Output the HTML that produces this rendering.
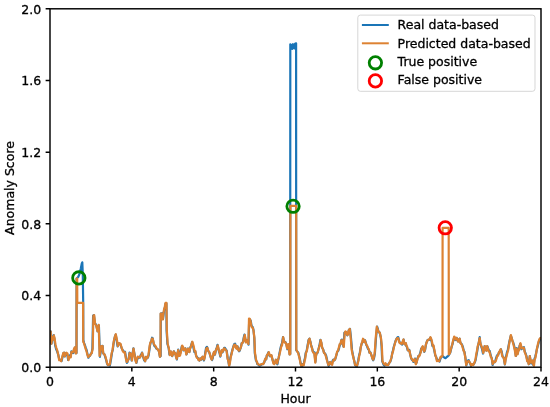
<!DOCTYPE html>
<html lang="en"><head><meta charset="utf-8"><title>Anomaly Score</title>
<style>html,body{margin:0;padding:0;background:#fff}body{width:550px;height:407px;overflow:hidden}</style></head>
<body>
<svg width="550" height="407" viewBox="0 0 550 407" style="display:block" font-family="'DejaVu Sans', 'Liberation Sans', sans-serif" font-size="12.5px" fill="#000" stroke="#000" stroke-width="0">
<rect width="550" height="407" fill="#fff"/>
<clipPath id="ax"><rect x="50.0" y="8.8" width="491.0" height="358.4"/></clipPath>
<g clip-path="url(#ax)" fill="none" stroke-width="2.2" stroke-linejoin="round" stroke-linecap="square">
<path d="M50.3,331.6 L50.9,331.7 L51.5,343.6 L52.5,336.8 L53.1,339.1 L53.7,335.1 L54.3,338.4 L55.2,345.4 L56.1,349.0 L57.1,351.2 L58.2,354.6 L59.3,359.4 L60.4,359.7 L61.5,361.1 L62.2,358.4 L62.8,355.9 L63.5,353.1 L64.2,352.6 L64.8,356.3 L65.5,354.4 L66.1,353.1 L67.2,354.2 L68.2,360.0 L69.0,356.7 L69.8,355.4 L70.6,356.6 L71.4,351.4 L72.2,352.5 L73.1,353.0 L74.1,350.2 L75.0,347.6 L75.8,353.2 L76.5,353.1 L76.5,352.5 L76.6,278.5 L78.2,277.0 L79.5,274.0 L80.8,268.5 L81.8,263.5 L82.3,262.3 L82.8,275.0 L83.2,302.8 L83.3,340.0 L84.0,342.8 L84.8,344.8 L85.7,347.6 L86.7,350.4 L87.6,354.7 L88.4,357.7 L89.2,355.8 L90.0,355.8 L90.8,353.9 L91.6,353.1 L92.4,348.7 L93.1,315.7 L93.9,315.1 L94.9,323.2 L96.2,325.0 L97.6,331.3 L98.9,325.6 L99.9,356.8 L100.7,351.8 L101.6,346.0 L102.6,345.8 L103.1,352.7 L103.8,354.1 L104.4,354.5 L105.3,357.1 L106.2,360.2 L107.0,363.4 L107.8,365.0 L108.8,365.1 L109.9,365.5 L111.0,359.3 L112.0,352.7 L112.8,349.5 L113.5,344.2 L114.2,339.6 L114.9,336.7 L115.7,334.6 L116.7,340.5 L117.6,346.3 L118.8,343.3 L119.6,343.7 L120.4,344.3 L121.8,348.5 L123.1,350.8 L124.1,351.6 L125.1,351.8 L126.2,359.4 L126.9,362.8 L127.5,362.0 L127.6,361.2 L128.6,359.1 L129.5,352.6 L130.2,353.1 L130.9,354.3 L131.7,360.5 L132.5,354.2 L133.4,348.3 L134.8,355.6 L135.6,360.1 L136.4,362.9 L137.2,359.5 L138.0,357.6 L138.7,357.4 L139.4,357.6 L140.0,357.1 L140.7,355.2 L141.3,354.3 L142.0,352.6 L142.7,355.4 L143.4,357.8 L144.2,360.3 L145.0,361.3 L146.0,356.9 L147.0,358.3 L147.9,357.7 L148.7,354.9 L150.0,345.5 L150.7,342.2 L151.4,340.9 L152.1,337.7 L152.7,338.3 L153.8,344.4 L154.6,346.2 L155.4,346.8 L156.3,348.5 L157.2,349.0 L158.1,349.6 L158.9,351.4 L160.0,356.7 L160.7,356.0 L160.8,313.6 L162.2,313.2 L163.0,319.0 L163.6,314.2 L164.2,309.7 L164.9,307.5 L165.5,303.8 L166.4,303.5 L166.6,330.4 L167.4,343.7 L168.6,347.7 L169.5,354.7 L170.8,351.6 L172.2,356.2 L173.1,353.7 L173.9,351.4 L174.7,353.7 L175.5,353.3 L176.2,357.2 L176.9,359.5 L177.5,354.9 L178.2,349.7 L179.1,355.1 L179.7,354.8 L180.4,352.6 L181.2,349.2 L181.9,346.1 L182.8,347.5 L183.6,350.4 L184.5,349.9 L185.3,348.3 L186.5,354.3 L187.3,352.1 L188.1,348.5 L188.8,350.0 L189.5,351.8 L190.1,348.2 L190.8,346.5 L191.4,344.5 L192.1,342.1 L193.2,346.4 L194.4,351.9 L195.2,351.1 L196.0,355.4 L196.9,357.1 L197.7,357.8 L198.6,359.7 L199.4,360.6 L200.4,358.5 L201.2,359.6 L201.9,358.2 L202.6,356.8 L203.2,357.7 L203.9,360.4 L204.6,357.6 L205.2,353.1 L206.1,347.8 L207.0,346.8 L208.3,351.0 L209.2,352.1 L210.1,355.0 L211.1,358.4 L212.1,360.0 L212.8,357.9 L213.6,353.6 L214.3,351.9 L215.0,354.6 L215.6,351.5 L216.2,349.2 L216.9,347.3 L217.5,344.8 L218.7,350.3 L219.5,352.8 L220.3,356.6 L221.6,350.8 L222.5,352.4 L223.3,350.7 L224.2,347.9 L225.0,347.9 L225.9,349.6 L226.7,350.7 L227.8,359.0 L228.4,361.2 L229.1,365.5 L229.7,362.9 L230.4,357.7 L231.3,354.4 L232.2,350.6 L233.2,347.1 L234.2,344.2 L235.1,343.6 L235.9,346.9 L236.8,348.3 L237.6,346.4 L238.3,349.7 L239.1,351.3 L239.7,350.7 L240.4,348.5 L241.0,346.9 L241.7,343.3 L242.3,343.0 L243.0,342.0 L243.7,337.7 L244.5,334.6 L245.8,341.7 L246.6,340.0 L247.5,340.2 L248.5,344.6 L249.2,319.3 L250.0,319.6 L250.8,321.1 L251.5,325.4 L252.2,327.0 L252.8,327.0 L253.5,330.2 L254.3,338.0 L254.8,353.0 L255.9,360.3 L256.6,361.5 L257.4,364.1 L258.4,364.6 L259.4,365.7 L260.4,365.5 L261.5,364.4 L263.5,363.4 L264.2,362.3 L264.9,360.3 L265.6,358.7 L266.2,359.4 L266.8,355.4 L267.5,354.6 L268.5,352.2 L269.7,356.2 L270.5,355.9 L271.3,355.5 L272.7,360.1 L273.5,362.8 L274.4,363.4 L275.2,362.3 L276.0,359.9 L276.7,362.5 L277.4,364.3 L278.0,360.8 L278.7,357.7 L279.4,353.7 L280.2,349.6 L280.9,346.5 L281.7,343.9 L281.7,345.4 L283.0,337.1 L283.8,340.4 L284.6,342.1 L285.5,342.2 L286.4,344.1 L287.4,349.2 L288.6,344.7 L289.7,354.4 L290.2,354.0 L290.3,44.3 L290.5,44.3 L290.9,46.5 L291.3,48.6 L291.8,45.2 L292.2,48.8 L292.6,46.0 L293.0,44.2 L293.5,47.6 L293.9,44.8 L294.3,48.4 L294.7,44.5 L295.2,43.6 L295.6,46.4 L296.0,43.3 L296.1,43.3 L296.2,350.0 L297.2,351.4 L298.3,352.7 L299.1,355.8 L299.9,359.3 L300.7,363.6 L301.5,366.5 L302.3,365.5 L303.1,363.8 L303.8,364.5 L304.4,360.4 L305.0,358.1 L305.7,353.0 L306.6,351.1 L307.5,345.9 L308.5,340.2 L309.5,338.7 L310.4,341.8 L311.2,345.7 L312.1,348.2 L313.0,351.6 L313.8,352.5 L314.5,352.3 L315.4,362.0 L316.1,355.2 L316.7,353.2 L317.6,352.7 L318.5,349.2 L319.4,345.6 L320.4,339.9 L321.2,342.3 L322.1,347.5 L323.1,349.3 L324.1,352.9 L325.1,353.4 L326.1,355.6 L327.2,360.5 L327.9,363.2 L328.6,365.8 L329.3,364.8 L330.1,362.1 L331.2,363.5 L331.9,364.0 L332.7,360.5 L333.5,359.6 L334.3,360.4 L335.2,359.3 L336.3,355.5 L337.4,351.5 L338.3,350.8 L339.2,347.6 L340.0,344.4 L340.6,344.3 L341.3,340.2 L341.9,339.6 L342.7,342.6 L343.5,346.5 L344.4,332.9 L345.1,332.2 L345.9,332.8 L347.3,335.3 L348.1,334.2 L348.8,330.2 L350.0,328.8 L351.0,338.0 L352.0,349.9 L352.9,354.8 L353.7,358.5 L354.4,361.4 L355.0,365.2 L355.8,365.6 L356.7,366.6 L357.4,364.1 L358.2,360.4 L359.1,355.4 L359.9,352.2 L360.8,347.0 L361.7,343.8 L362.5,342.0 L363.3,339.0 L364.2,342.1 L365.0,340.2 L365.7,342.3 L366.4,345.0 L367.2,346.6 L368.0,348.8 L368.7,349.4 L369.4,352.4 L370.4,352.3 L371.5,355.5 L372.4,358.5 L373.2,360.3 L374.1,357.9 L374.9,353.5 L376.0,338.0 L377.1,326.5 L377.8,328.9 L378.4,331.3 L379.1,332.4 L379.7,332.6 L380.8,337.4 L381.6,346.5 L382.2,361.0 L383.0,363.2 L383.8,365.0 L384.6,365.5 L385.5,363.8 L386.3,365.0 L388.5,364.3 L389.4,362.7 L390.2,362.0 L390.9,360.0 L391.5,357.5 L392.2,353.6 L392.8,351.4 L393.6,347.5 L394.5,344.5 L395.5,341.1 L396.5,338.8 L397.4,337.5 L398.2,337.1 L399.1,340.6 L399.9,342.8 L401.0,343.5 L402.0,344.6 L402.8,342.1 L403.6,339.6 L404.4,343.9 L405.0,344.4 L405.7,343.3 L406.3,345.9 L406.9,347.0 L407.7,350.2 L408.5,350.1 L409.3,349.9 L410.1,354.1 L411.0,357.8 L411.9,359.7 L412.7,360.5 L413.5,361.9 L414.3,360.4 L415.0,358.6 L415.9,363.6 L416.6,362.4 L417.2,359.6 L418.3,356.1 L418.9,356.3 L419.7,354.3 L420.4,352.4 L421.2,348.6 L422.6,346.9 L423.4,349.7 L424.3,351.9 L425.1,349.9 L425.9,344.8 L426.7,342.1 L427.4,340.3 L428.1,339.9 L428.8,339.8 L429.6,339.7 L430.3,337.6 L431.0,339.1 L431.7,341.7 L432.4,345.8 L433.2,345.6 L434.5,351.6 L435.3,355.4 L436.2,357.0 L437.1,360.4 L437.9,359.8 L438.7,360.6 L439.5,361.6 L440.2,359.4 L440.9,357.6 L441.3,357.0 L442.4,356.0 L443.5,356.8 L444.5,357.8 L445.5,358.2 L446.5,357.2 L447.5,356.5 L448.6,355.5 L450.2,352.7 L451.0,349.5 L451.8,346.2 L452.5,344.2 L453.2,341.0 L454.3,337.3 L454.9,338.2 L455.5,340.0 L456.6,337.8 L457.3,339.8 L457.9,341.4 L458.7,340.0 L459.6,338.7 L460.4,342.9 L461.3,343.8 L462.1,344.8 L463.0,347.4 L463.8,350.7 L464.5,352.0 L465.5,358.3 L466.3,365.5 L467.1,362.3 L467.9,360.5 L468.7,360.2 L469.5,362.3 L470.2,363.6 L471.0,366.0 L472.1,364.4 L473.2,365.0 L474.0,363.6 L474.9,362.1 L475.7,359.6 L476.5,354.9 L477.3,350.7 L478.0,346.0 L478.9,342.0 L479.7,337.2 L480.3,343.0 L481.0,345.7 L482.1,349.3 L483.0,353.6 L483.8,350.1 L484.6,346.1 L485.4,348.4 L486.3,350.5 L487.3,346.2 L488.2,348.6 L489.0,351.3 L489.7,351.0 L490.4,354.0 L491.1,356.8 L491.8,358.4 L492.7,365.0 L493.3,362.2 L494.0,362.5 L494.7,362.2 L495.4,360.6 L496.2,357.8 L497.0,355.4 L497.9,355.4 L498.7,353.1 L499.8,351.3 L500.9,349.3 L501.7,351.7 L502.5,356.0 L503.2,357.4 L503.8,358.0 L504.9,364.5 L505.4,360.1 L506.0,356.9 L506.9,352.7 L507.9,349.5 L508.6,345.6 L509.4,341.5 L510.8,335.7 L511.6,337.9 L512.3,340.3 L513.2,342.5 L514.0,345.3 L515.0,350.0 L515.9,356.0 L516.7,348.2 L517.5,353.9 L518.5,349.6 L518.8,349.8 L519.5,346.1 L520.2,344.0 L521.4,349.2 L522.2,348.2 L523.1,347.4 L523.9,347.2 L524.8,351.6 L525.6,353.5 L526.4,355.9 L527.5,361.4 L528.2,361.6 L528.9,364.2 L529.8,356.0 L530.8,363.2 L531.5,363.3 L532.2,360.9 L532.9,364.4 L533.7,365.2 L534.5,358.8 L535.3,356.6 L536.2,352.7 L537.0,348.6 L537.9,345.5 L538.7,342.4 L540.0,339.0 L540.8,337.9 L541.2,337.9" stroke="#1a75b7"/>
<path d="M50.0,331.7 L50.7,331.7 L51.3,343.7 L52.5,337.2 L53.2,339.6 L53.9,335.4 L54.6,338.3 L55.5,344.7 L56.4,348.1 L57.3,350.7 L58.3,354.9 L59.2,360.2 L60.2,360.2 L61.2,361.2 L61.9,358.2 L62.5,355.7 L63.3,353.0 L64.0,352.6 L64.8,356.3 L65.5,354.2 L66.3,352.7 L67.5,353.7 L68.5,360.2 L69.3,357.4 L70.0,356.3 L70.7,357.3 L71.4,351.8 L72.1,352.3 L72.9,352.4 L73.8,349.5 L74.7,347.3 L75.6,353.3 L76.3,353.3 L76.5,352.5 L76.6,278.5 L77.2,278.5 L77.3,302.8 L83.1,302.8 L83.2,340.0 L83.2,341.7 L84.0,343.2 L84.7,345.6 L85.5,348.5 L86.4,350.8 L87.3,354.5 L88.2,357.2 L89.1,355.4 L90.0,355.7 L90.9,353.9 L91.8,353.0 L92.7,348.5 L93.4,315.5 L94.2,315.2 L95.1,323.7 L96.3,325.7 L97.5,331.2 L98.7,324.8 L99.6,356.0 L100.5,351.5 L101.4,346.2 L102.6,346.2 L103.2,353.0 L103.9,354.2 L104.7,354.5 L105.6,357.2 L106.5,360.5 L107.2,363.7 L108.0,365.0 L108.9,364.6 L109.8,364.7 L110.7,358.8 L111.7,353.0 L112.5,350.3 L113.2,345.0 L114.0,340.2 L114.9,336.7 L115.8,334.2 L117.0,340.2 L117.9,346.2 L119.1,343.2 L119.8,343.4 L120.6,344.0 L121.8,348.5 L123.0,351.5 L123.9,352.4 L124.8,352.2 L126.0,359.0 L126.7,362.0 L127.5,361.2 L127.5,360.5 L128.7,359.0 L129.7,353.0 L130.5,353.5 L131.2,354.5 L132.0,360.5 L132.7,354.2 L133.5,348.5 L134.7,356.0 L135.4,360.3 L136.2,362.7 L136.9,358.8 L137.7,356.7 L138.4,356.8 L139.2,357.5 L139.9,357.6 L140.7,356.0 L141.4,355.1 L142.2,353.0 L142.9,355.3 L143.7,357.5 L144.4,360.0 L145.2,361.2 L146.1,356.9 L147.0,358.2 L147.7,357.4 L148.5,354.5 L149.7,345.5 L150.4,342.6 L151.2,341.7 L151.9,338.6 L152.7,338.7 L153.9,344.0 L154.8,345.4 L155.7,346.2 L156.6,348.4 L157.5,349.2 L158.2,349.9 L159.0,351.5 L159.9,356.7 L160.5,356.0 L160.6,313.7 L161.9,313.7 L162.7,319.5 L163.3,314.5 L164.0,309.6 L164.8,306.8 L165.5,302.9 L166.5,302.9 L166.8,330.0 L167.7,344.0 L168.9,348.5 L169.8,355.2 L171.0,351.5 L172.2,356.0 L172.9,353.7 L173.7,351.5 L174.4,353.6 L175.2,353.0 L175.9,356.7 L176.7,359.0 L177.4,354.7 L178.2,350.0 L179.2,356.0 L180.0,355.6 L180.7,353.0 L181.5,349.0 L182.2,345.5 L183.0,346.8 L183.7,350.0 L184.5,349.8 L185.2,348.5 L186.3,354.5 L187.0,352.1 L187.8,348.5 L188.5,350.1 L189.3,352.2 L190.0,348.8 L190.8,347.0 L191.5,344.6 L192.3,341.7 L193.5,345.5 L194.7,351.5 L195.4,351.2 L196.2,356.0 L196.9,357.8 L197.7,358.2 L198.4,359.8 L199.2,360.5 L200.1,358.5 L201.0,359.7 L201.7,358.3 L202.5,356.7 L203.2,357.3 L204.0,359.7 L204.7,357.1 L205.5,353.0 L206.4,348.3 L207.3,347.7 L208.5,351.5 L209.2,352.1 L210.0,354.5 L210.9,357.8 L211.8,359.7 L212.5,357.9 L213.3,353.7 L214.0,351.9 L214.8,354.5 L215.5,351.4 L216.3,349.2 L217.0,347.7 L217.8,345.5 L219.0,350.7 L219.7,352.7 L220.5,356.0 L221.7,350.0 L222.4,351.9 L223.2,350.7 L223.9,348.4 L224.7,348.5 L225.6,350.0 L226.5,350.7 L227.7,359.0 L228.4,361.3 L229.2,365.7 L229.9,363.0 L230.7,357.5 L231.6,353.7 L232.5,350.0 L233.4,347.0 L234.3,344.7 L235.0,344.5 L235.8,347.7 L236.5,348.7 L237.3,346.2 L238.0,349.2 L238.8,350.7 L239.5,350.4 L240.3,348.5 L241.0,347.0 L241.8,343.2 L242.5,342.8 L243.3,341.7 L244.0,337.7 L244.8,335.0 L246.0,342.5 L246.7,340.6 L247.5,340.2 L248.4,344.0 L249.0,318.5 L249.7,318.8 L250.5,320.7 L251.2,325.5 L252.0,327.5 L252.7,327.5 L253.5,330.5 L254.4,338.0 L255.0,353.0 L256.2,360.5 L256.9,361.7 L257.7,364.2 L258.6,364.3 L259.5,365.0 L260.4,364.8 L261.3,364.2 L263.2,364.2 L264.0,362.9 L264.7,360.5 L265.5,358.5 L266.2,359.0 L267.0,355.0 L267.7,354.5 L268.8,352.2 L270.0,356.0 L270.7,355.6 L271.5,355.2 L272.7,360.5 L273.4,363.6 L274.2,364.2 L274.9,362.7 L275.7,359.7 L276.4,361.8 L277.2,363.5 L277.9,360.2 L278.7,357.5 L279.6,354.0 L280.5,350.0 L281.2,346.7 L282.0,344.0 L282.0,345.5 L283.2,337.2 L283.9,340.7 L284.7,342.5 L285.4,342.4 L286.2,344.0 L287.1,348.5 L288.3,344.0 L289.5,354.5 L290.3,354.0 L290.4,205.9 L296.2,205.9 L296.3,350.0 L296.4,350.0 L297.3,351.6 L298.2,353.0 L298.9,355.9 L299.7,359.0 L300.4,362.9 L301.2,365.7 L302.1,365.2 L303.0,364.2 L303.7,365.3 L304.5,361.2 L305.2,358.6 L306.0,353.0 L306.9,350.7 L307.8,345.5 L308.7,340.1 L309.6,338.7 L310.3,341.8 L311.1,345.5 L311.9,347.9 L312.7,351.5 L313.5,352.8 L314.2,353.0 L315.3,362.7 L316.0,355.6 L316.8,353.0 L317.8,351.9 L318.7,348.5 L319.7,345.4 L320.7,340.2 L321.4,342.7 L322.2,347.7 L323.1,349.4 L324.0,353.0 L324.9,353.7 L325.8,356.0 L327.0,360.5 L327.7,362.8 L328.5,365.0 L329.4,364.1 L330.3,362.0 L331.5,364.2 L332.2,364.8 L333.0,361.0 L333.7,359.7 L334.5,360.1 L335.2,359.0 L336.2,355.4 L337.2,351.5 L338.0,350.7 L338.9,347.2 L339.7,344.0 L340.5,344.1 L341.2,340.4 L342.0,340.2 L342.9,343.4 L343.8,347.0 L344.7,332.7 L345.4,331.5 L346.2,332.0 L347.4,335.0 L348.0,334.2 L348.7,330.5 L349.8,329.0 L350.7,338.0 L351.7,350.0 L352.7,355.1 L353.7,359.0 L354.4,361.7 L355.2,365.0 L356.1,364.9 L357.0,365.7 L357.7,363.6 L358.5,360.5 L359.2,356.0 L360.0,353.0 L360.7,347.5 L361.5,344.0 L362.2,341.8 L363.0,338.7 L363.9,341.9 L364.8,340.2 L365.5,342.2 L366.3,344.7 L367.3,346.0 L368.2,348.5 L369.0,349.6 L369.7,353.0 L370.7,353.1 L371.7,356.0 L372.4,358.4 L373.2,359.7 L373.9,357.2 L374.7,353.0 L375.7,338.0 L376.8,326.7 L377.5,329.0 L378.3,331.2 L379.0,332.3 L379.8,332.7 L381.0,338.0 L381.9,347.0 L382.5,361.2 L383.2,362.8 L384.0,364.2 L384.7,364.6 L385.5,363.2 L386.2,365.0 L388.2,365.0 L389.1,363.0 L390.0,362.0 L390.7,359.8 L391.5,357.5 L392.2,353.7 L393.0,351.5 L393.9,347.2 L394.8,344.0 L395.8,340.5 L396.7,338.7 L397.5,338.0 L398.2,338.0 L399.0,341.5 L399.7,343.2 L400.7,343.2 L401.7,344.0 L402.6,341.6 L403.5,339.5 L404.4,344.0 L405.1,344.4 L405.9,343.2 L406.5,345.7 L407.2,347.0 L408.0,350.5 L408.7,350.7 L409.5,350.5 L410.2,354.5 L411.0,357.6 L411.7,359.0 L412.5,359.6 L413.2,361.2 L414.0,360.2 L414.7,359.0 L415.8,364.2 L416.5,362.8 L417.3,359.7 L418.5,356.0 L419.2,356.3 L420.0,354.5 L420.7,352.5 L421.5,348.5 L422.7,346.2 L423.4,349.0 L424.2,351.5 L424.9,350.1 L425.7,345.5 L426.4,342.9 L427.2,341.0 L427.9,340.1 L428.7,339.5 L429.6,339.2 L430.5,337.2 L431.2,338.9 L432.0,341.7 L432.7,345.8 L433.5,345.5 L434.7,351.5 L435.4,355.5 L436.2,357.5 L436.9,361.1 L437.7,360.5 L438.4,360.8 L439.2,361.2 L439.9,358.6 L440.7,356.7 L441.3,357.0 L442.5,356.0 L442.6,227.8 L448.7,227.8 L448.8,354.5 L448.8,354.5 L450.0,353.0 L450.7,350.1 L451.5,347.0 L452.2,344.7 L453.0,341.0 L454.2,336.5 L454.9,337.4 L455.7,339.5 L456.9,338.0 L457.6,340.2 L458.2,341.7 L459.0,340.2 L459.7,338.7 L460.5,343.0 L461.2,344.0 L462.0,345.2 L462.7,347.7 L463.5,350.6 L464.2,351.5 L465.3,357.5 L466.2,365.0 L467.1,362.4 L468.0,361.2 L468.9,361.0 L469.8,362.7 L470.5,363.5 L471.3,365.7 L472.3,364.1 L473.2,365.0 L474.0,363.6 L474.7,362.0 L475.5,359.3 L476.2,354.5 L477.0,350.5 L477.7,346.2 L478.7,342.7 L479.7,338.0 L480.4,343.4 L481.2,345.5 L482.4,348.5 L483.3,353.0 L484.0,349.9 L484.8,346.2 L485.5,348.7 L486.3,350.7 L487.2,346.2 L487.9,348.6 L488.7,351.5 L489.4,351.4 L490.2,354.5 L490.9,357.1 L491.7,358.2 L492.7,364.2 L493.5,361.3 L494.2,362.0 L495.0,362.2 L495.7,361.2 L496.5,358.6 L497.2,356.0 L498.0,355.6 L498.7,353.0 L499.7,351.0 L500.7,349.2 L501.4,351.8 L502.2,356.0 L502.9,357.1 L503.7,357.5 L504.9,364.2 L505.5,360.3 L506.2,357.5 L507.2,353.5 L508.2,350.0 L508.9,345.5 L509.7,341.0 L510.9,335.0 L511.5,337.5 L512.2,340.2 L513.0,342.7 L513.7,345.5 L514.8,350.0 L515.7,356.0 L516.6,348.5 L517.5,354.5 L518.7,350.0 L519.0,350.0 L519.7,345.8 L520.5,343.2 L521.7,348.5 L522.4,347.9 L523.2,347.7 L523.9,347.8 L524.7,352.2 L525.4,353.9 L526.2,356.0 L527.2,361.2 L528.0,361.5 L528.7,364.2 L529.8,356.0 L531.0,362.7 L531.7,362.7 L532.5,360.5 L533.2,364.4 L534.0,365.7 L534.7,359.6 L535.5,357.5 L536.2,353.1 L537.0,348.5 L537.7,345.0 L538.5,341.7 L539.7,338.7 L540.6,338.0 L541.0,338.0" stroke="#dd8232"/>
</g>
<circle cx="78.85" cy="277.95" r="6.2" fill="none" stroke="#008000" stroke-width="2.8"/>
<circle cx="293.05" cy="206.27" r="6.2" fill="none" stroke="#008000" stroke-width="2.8"/>
<circle cx="445.26" cy="227.77" r="6.2" fill="none" stroke="#ff0000" stroke-width="2.8"/>
<rect x="50.0" y="8.8" width="491.0" height="358.4" fill="none" stroke="#000" stroke-width="1.45"/>
<path d="M50.00,367.2v4.375 M131.83,367.2v4.375 M213.67,367.2v4.375 M295.50,367.2v4.375 M377.33,367.2v4.375 M459.17,367.2v4.375 M541.00,367.2v4.375 M50.0,367.20h-4.375 M50.0,295.52h-4.375 M50.0,223.84h-4.375 M50.0,152.16h-4.375 M50.0,80.48h-4.375 M50.0,8.80h-4.375" stroke="#000" stroke-width="1.45" fill="none"/>
<text stroke-width="0.3" x="50.00" y="385.8" text-anchor="middle">0</text>
<text stroke-width="0.3" x="131.83" y="385.8" text-anchor="middle">4</text>
<text stroke-width="0.3" x="213.67" y="385.8" text-anchor="middle">8</text>
<text stroke-width="0.3" x="295.50" y="385.8" text-anchor="middle">12</text>
<text stroke-width="0.3" x="377.33" y="385.8" text-anchor="middle">16</text>
<text stroke-width="0.3" x="459.17" y="385.8" text-anchor="middle">20</text>
<text stroke-width="0.3" x="541.00" y="385.8" text-anchor="middle">24</text>
<text stroke-width="0.3" x="41.25" y="372.10" text-anchor="end">0.0</text>
<text stroke-width="0.3" x="41.25" y="300.42" text-anchor="end">0.4</text>
<text stroke-width="0.3" x="41.25" y="228.74" text-anchor="end">0.8</text>
<text stroke-width="0.3" x="41.25" y="157.06" text-anchor="end">1.2</text>
<text stroke-width="0.3" x="41.25" y="85.38" text-anchor="end">1.6</text>
<text stroke-width="0.3" x="41.25" y="13.70" text-anchor="end">2.0</text>
<text stroke-width="0.3" x="295.50" y="402.7" text-anchor="middle">Hour</text>
<text stroke-width="0.3" transform="translate(14.3,188.00) rotate(-90)" text-anchor="middle">Anomaly Score</text>
<rect x="357.8" y="15.1" width="177.2" height="76.2" rx="2.6" ry="2.6" fill="#fff" fill-opacity="0.8" stroke="#ccc" stroke-opacity="0.8" stroke-width="1.0"/>
<path d="M361.9,25.0h26.9" stroke="#1a75b7" stroke-width="2.0" stroke-linecap="butt" fill="none"/>
<path d="M361.9,43.3h26.9" stroke="#dd8232" stroke-width="2.0" stroke-linecap="butt" fill="none"/>
<circle cx="375.4" cy="62.8" r="6.2" fill="none" stroke="#008000" stroke-width="2.8"/>
<circle cx="375.4" cy="80.9" r="6.2" fill="none" stroke="#ff0000" stroke-width="2.8"/>
<text stroke-width="0.3" x="397.6" y="28.90">Real data-based</text>
<text stroke-width="0.3" x="397.6" y="47.50">Predicted data-based</text>
<text stroke-width="0.3" x="397.6" y="65.70">True positive</text>
<text stroke-width="0.3" x="397.6" y="83.90">False positive</text>
</svg>
</body></html>
